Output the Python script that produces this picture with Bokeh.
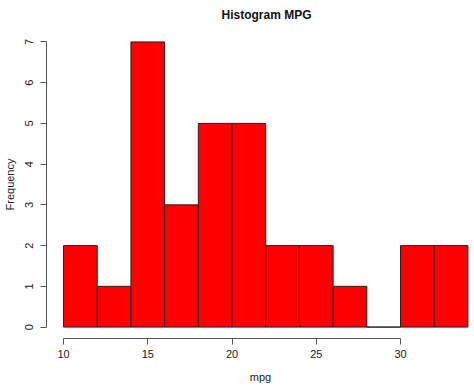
from bokeh.plotting import figure
from bokeh.models import FixedTicker, ColumnDataSource, Range1d
from bokeh.embed import file_html
from bokeh.resources import INLINE

# Data: histogram of mpg with breaks of width 2
breaks = [10, 12, 14, 16, 18, 20, 22, 24, 26, 28, 30, 32, 34]
counts = [2, 1, 7, 3, 5, 5, 2, 2, 1, 0, 2, 2]
x_ticks = [10, 15, 20, 25, 30]
y_ticks = [0, 1, 2, 3, 4, 5, 6, 7]

src = ColumnDataSource(dict(
    left=breaks[:-1],
    right=breaks[1:],
    top=counts,
    bottom=[0] * len(counts),
))

FONT = "Liberation Sans"
TXT = "#222222"
AX = "#555555"

p = figure(
    width=474, height=389,
    output_backend="svg", toolbar_location=None,
    x_range=Range1d(8.99, 34.39), y_range=Range1d(-0.28, 7.28),
    min_border_left=46, min_border_right=0, min_border_top=30, min_border_bottom=51,
    title="Histogram MPG",
)
p.outline_line_color = None
p.xgrid.grid_line_color = None
p.ygrid.grid_line_color = None
p.background_fill_color = "white"
p.border_fill_color = "white"

p.title.text_font = FONT
p.title.text_font_size = "12px"
p.title.text_font_style = "bold"
p.title.text_color = "#111111"
p.title.align = "left"
p.title.offset = 175
p.title.vertical_align = "top"
p.title.standoff = 14

p.quad(left="left", right="right", top="top", bottom="bottom", source=src,
       fill_color="#FF0000", line_color="#222222", line_width=1)

for ax in (p.xaxis[0], p.yaxis[0]):
    ax.axis_line_color = AX
    ax.major_tick_line_color = AX
    ax.minor_tick_line_color = None
    ax.major_tick_in = 0
    ax.major_tick_out = 6
    ax.major_label_text_font = FONT
    ax.major_label_text_font_size = "11px"
    ax.major_label_text_color = TXT
    ax.axis_label_text_font = FONT
    ax.axis_label_text_font_size = "11px"
    ax.axis_label_text_font_style = "normal"
    ax.axis_label_text_color = TXT

p.xaxis.ticker = FixedTicker(ticks=x_ticks)
p.xaxis.bounds = (x_ticks[0], x_ticks[-1])
p.xaxis.axis_label = "mpg"
p.xaxis.major_label_standoff = 5
p.xaxis.axis_label_standoff = 10

p.yaxis.ticker = FixedTicker(ticks=y_ticks)
p.yaxis.bounds = (y_ticks[0], y_ticks[-1])
p.yaxis.axis_label = "Frequency"
p.yaxis.major_label_orientation = "vertical"
p.yaxis.major_label_standoff = 7
p.yaxis.axis_label_standoff = 7

open("out.html", "w").write(file_html(p, INLINE))
